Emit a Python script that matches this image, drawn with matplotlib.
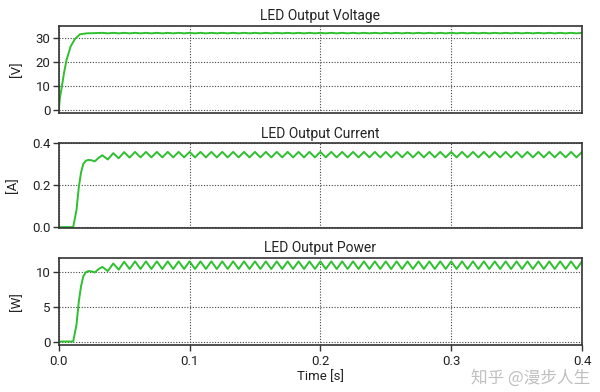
import numpy as np
import matplotlib
matplotlib.use('Agg')
import matplotlib.pyplot as plt

plt.rcParams['font.family'] = ['Roboto', 'DejaVu Sans']

# start-up part of the waveforms
t_volt_start = [0.0, 0.0008, 0.0023, 0.004, 0.0059, 0.009, 0.0123, 0.0161, 0.0213, 0.028]
volt_start = [0.0, 5.0, 9.7, 15.5, 20.8, 26.4, 29.5, 31.5, 31.9, 32.0]

t_cur_start = [0.0, 0.011, 0.0135, 0.0153, 0.017, 0.0187, 0.0205, 0.0225, 0.025, 0.0275, 0.0305]
cur_start = [0.0, 0.0, 0.08, 0.19, 0.26, 0.30, 0.315, 0.32, 0.318, 0.313, 0.33]
pow_start = [0.0, 0.0, 2.4, 5.8, 8.0, 9.4, 10.0, 10.2, 10.15, 10.0, 10.5]

# 120 Hz ripple: peaks and troughs every half period from t = 0.0333 s
t_ripple = 0.0333 + np.arange(89) / 240.0

volt_ripple = [32.1, 31.9] * 44 + [32.1]
cur_ripple = ([0.342, 0.322, 0.352, 0.328, 0.357, 0.331]
              + [0.358, 0.332] * 41 + [0.358])
pow_ripple = ([10.8, 10.2, 11.3, 10.4, 11.55, 10.5]
              + [11.6, 10.5] * 41 + [11.6])

t_volt = np.concatenate([t_volt_start, t_ripple])
volt = np.concatenate([volt_start, volt_ripple])
t_cur = np.concatenate([t_cur_start, t_ripple])
cur = np.concatenate([cur_start, cur_ripple])
pwr = np.concatenate([pow_start, pow_ripple])

green = '#2fbf2f'
frame = '#333333'

fig = plt.figure(figsize=(6.0, 3.92), dpi=100)

panels = [
    ([0.098, 0.712, 0.872, 0.222], t_volt, volt, 'LED Output Voltage', '[V]',
     (-1.1, 35.0), [0, 10, 20, 30], ['0', '10', '20', '30']),
    ([0.098, 0.418, 0.872, 0.217], t_cur, cur, 'LED Output Current', '[A]',
     (-0.005, 0.4), [0.0, 0.2, 0.4], ['0.0', '0.2', '0.4']),
    ([0.098, 0.120, 0.872, 0.222], t_cur, pwr, 'LED Output Power', '[W]',
     (-0.5, 12.1), [0, 5, 10], ['0', '5', '10']),
]

for i, (rect, x, y, title, ylab, ylim, yt, ytl) in enumerate(panels):
    ax = fig.add_axes(rect)
    ax.plot(x, y, color=green, lw=1.4)
    ax.set_xlim(0, 0.4)
    ax.set_ylim(*ylim)
    ax.set_yticks(yt)
    ax.set_yticklabels(ytl)
    ax.set_xticks([0.0, 0.1, 0.2, 0.3, 0.4])
    ax.grid(True, color='#444444', ls=(0, (1, 1.5)), lw=0.8)
    ax.set_title(title, fontsize=10, pad=4, color='#222222')
    ax.set_ylabel(ylab, fontsize=9.5, color='#222222', labelpad=9)
    for s in ax.spines.values():
        s.set_color(frame)
        s.set_linewidth(1.2)
    ax.tick_params(axis='y', direction='out', length=4, width=1,
                   color=frame, labelsize=9.5, labelcolor='#222222', pad=2)
    if i < 2:
        ax.tick_params(axis='x', length=0, labelbottom=False)
    else:
        ax.set_xticklabels(['0.0', '0.1', '0.2', '0.3', '0.4'])
        ax.tick_params(axis='x', direction='out', length=4, width=1,
                       color=frame, labelsize=9.5, labelcolor='#222222', pad=3)
        ax.set_xlabel('Time [s]', fontsize=9.5, color='#222222', labelpad=2)

# watermark
fig.text(0.785, 0.035, '知乎 @漫步人生', fontsize=12, color='#b0b0b0', alpha=0.8,
         family=['Noto Sans CJK SC', 'DejaVu Sans'], va='center')

fig.savefig('out.png', dpi=100)
